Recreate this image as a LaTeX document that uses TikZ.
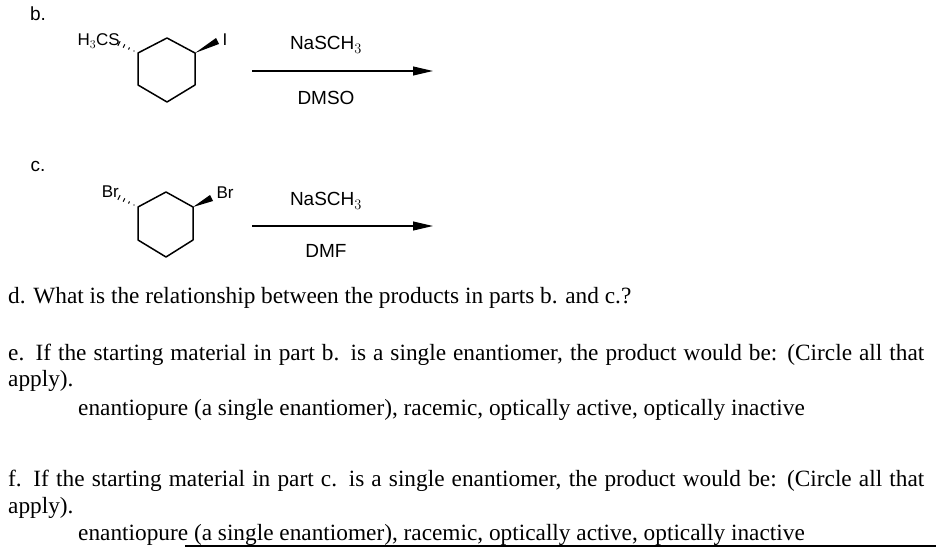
\documentclass[tikz,border=0pt]{standalone}
\usepackage{fontspec}
\setmainfont{Liberation Serif}
\newfontfamily\chem{Liberation Sans}
\usetikzlibrary{arrows.meta,calc}
\begin{document}
\begin{tikzpicture}[x=1pt,y=-1pt,
 bond/.style={line width=1.5pt,line join=round},
 ch/.style={font=\chem\fontsize{17}{19}\selectfont,inner sep=0pt},
 rg/.style={font=\chem\fontsize{19}{21}\selectfont,inner sep=0pt},
 tx/.style={font=\fontsize{23.3}{26}\selectfont,inner sep=0pt,anchor=west},
 arr/.style={line width=1.3pt,-{Triangle[length=20pt,width=11pt,angle'=25]}}]
\useasboundingbox (0,0) rectangle (936,548);
\node[rg] (lb) at (38,14) {b.};
\node[rg] (lc) at (38,166) {c.};
% b
\draw[bond] (138,53)--(167,38)--(195,53)--(195,85)--(167,102)--(138,85)--cycle;
\fill (195,53)--(216,38)--(219,44)--cycle;
\foreach \t in {0.2,0.45,0.7,0.95}{\draw[line width=1pt] ($(138,53)!\t!(118,43)+(-1.2*\t,2.4*\t)$)--($(138,53)!\t!(118,43)-(-1.2*\t,2.4*\t)$);}
\node[ch] (i) at (225,40) {I};
\node[ch,anchor=east] (s) at (120,41) {H$_3$CS};
\node[rg] (r1) at (326,45) {NaSCH$_3$};
\node[rg] (s1) at (326,98) {DMSO};
\coordinate (a1) at (252,71); \coordinate (a2) at (433,71);
\draw[arr] (a1)--(a2);
% c
\draw[bond] (138,207)--(166,192)--(193,207)--(193,240)--(166,257)--(138,240)--cycle;
\fill (193,207)--(210,195)--(213,201)--cycle;
\foreach \t in {0.2,0.45,0.7,0.95}{\draw[line width=1pt] ($(138,207)!\t!(118,197)+(-1.2*\t,2.4*\t)$)--($(138,207)!\t!(118,197)-(-1.2*\t,2.4*\t)$);}
\node[ch] (br2) at (225,193) {Br};
\node[ch,anchor=east] (br1) at (119,192) {Br};
\node[rg] (r2) at (326,201) {NaSCH$_3$};
\node[rg] (s2) at (326,251) {DMF};
\coordinate (c1) at (252,226); \coordinate (c2) at (433,226);
\draw[arr] (c1)--(c2);
% text
\node[tx] (d) at (8,298) {d. What is the relationship between the products in parts b. and c.?};
\node[tx] (e1) at (8,355) {\makebox[916pt][s]{e. If the starting material in part b. is a single enantiomer, the product would be: (Circle all that}};
\node[tx] (e2) at (8,381) {apply).};
\node[tx] (e3) at (78,410) {enantiopure (a single enantiomer), racemic, optically active, optically inactive};
\node[tx] (f1) at (8,481) {\makebox[916pt][s]{f. If the starting material in part c. is a single enantiomer, the product would be: (Circle all that}};
\node[tx] (f2) at (8,508) {apply).};
\node[tx] (f3) at (78,535) {enantiopure (a single enantiomer), racemic, optically active, optically inactive};
\coordinate (u1) at (185,546); \coordinate (u2) at (936,546);
\draw[line width=1.5pt] (u1)--(u2);
\end{tikzpicture}
\end{document}
